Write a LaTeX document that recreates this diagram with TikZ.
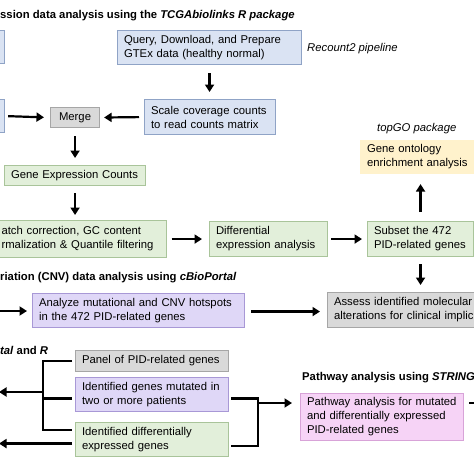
\documentclass[tikz,border=0pt]{standalone}
\usepackage{fontspec}
\setmainfont{Liberation Sans}
\usetikzlibrary{arrows.meta}
\definecolor{bluefill}{HTML}{DAE3F3}
\definecolor{blueline}{HTML}{8FA3C6}
\definecolor{greenfill}{HTML}{E2EFDA}
\definecolor{greenline}{HTML}{A9C49A}
\definecolor{grayfill}{HTML}{D9D9D9}
\definecolor{grayline}{HTML}{A6A6A6}
\definecolor{purplefill}{HTML}{DFD7F7}
\definecolor{purpleline}{HTML}{A898D6}
\definecolor{pinkfill}{HTML}{F6D3F6}
\definecolor{pinkline}{HTML}{D8A3D8}
\definecolor{orangefill}{HTML}{FFF2CC}
\begin{document}
\begin{tikzpicture}[x=1pt,y=-1pt,
  txt/.style={font=\fontsize{11.3}{14}\selectfont},
  box/.style={txt, draw, line width=1.1pt, anchor=north west, align=left,
    inner xsep=6.5pt, inner ysep=0pt},
  blank/.style={draw, line width=1.1pt, anchor=north west, inner sep=0pt},
  bluebox/.style={fill=bluefill, draw=blueline},
  greenbox/.style={fill=greenfill, draw=greenline},
  graybox/.style={fill=grayfill, draw=grayline},
  purplebox/.style={fill=purplefill, draw=purpleline},
  pinkbox/.style={fill=pinkfill, draw=pinkline},
  orangebox/.style={fill=orangefill, draw=orangefill},
  head/.style={txt, font=\fontsize{11.3}{14}\selectfont\bfseries, anchor=base west, inner sep=0pt},
  note/.style={txt, font=\fontsize{11.3}{14}\selectfont\itshape, anchor=base west, inner sep=0pt},
  arr/.style={line width=2.2pt, -{Triangle[length=7.5pt,width=9pt]}},
  ln/.style={line width=2.2pt}
]
\useasboundingbox (0,0) rectangle (474,474);
\clip (0,0) rectangle (474,474);
\fill[white] (0,0) rectangle (474,474);

% headings
\node[head] (t1) at (0,18) {ssion data analysis using the \textit{TCGAbiolinks R package}};
\node[head] (t2) at (0,280) {riation (CNV) data analysis using \textit{cBioPortal}};
\node[head] (t3) at (0,354) {\textit{tal} and \textit{R}};
\node[head] (t4) at (302,380) {Pathway analysis using \textit{STRING}};
\node[note] (rec) at (307,51) {Recount2 pipeline};
\node[note] (tgo) at (377,131) {topGO package};

% boxes
\node[blank, bluebox, minimum width=14pt, minimum height=33pt] (lb1) at (-10,30) {};
\node[blank, bluebox, minimum width=14pt, minimum height=33pt] (lb2) at (-10,99) {};
\node[box, bluebox, minimum width=184pt, text width=171pt, minimum height=34pt] (qry) at (117,30)
  {Query, Download, and Prepare\\GTEx data (healthy normal)};
\node[box, graybox, minimum width=49pt, minimum height=20pt, inner xsep=0pt, align=center] (mrg) at (50,107) {Merge};
\node[box, bluebox, minimum width=131pt, text width=118pt, minimum height=35pt] (scl) at (144,99)
  {Scale coverage counts\\to read counts matrix};
\node[box, greenbox, minimum width=141pt, text width=128pt, minimum height=20pt] (gec) at (4,165)
  {Gene Expression Counts};
\node[box, greenbox, minimum width=171pt, text width=158pt, minimum height=37pt, inner xsep=6.5pt] (bat) at (-5.5,220)
  {atch correction, GC content\\rmalization \& Quantile filtering};
\node[box, greenbox, minimum width=118pt, text width=105pt, minimum height=35pt] (dif) at (209,221)
  {Differential\\expression analysis};
\node[box, greenbox, minimum width=106pt, text width=93pt, minimum height=35pt] (sub) at (367,221)
  {Subset the 472\\PID-related genes};
\node[box, orangebox, minimum width=116pt, text width=103pt, minimum height=33pt] (go) at (360,140)
  {Gene ontology\\enrichment analysis};
\node[box, purplebox, minimum width=212pt, text width=199pt, minimum height=34pt] (ana) at (32,293)
  {Analyze mutational and CNV hotspots\\in the 472 PID-related genes};
\node[box, graybox, minimum width=160pt, text width=147pt, minimum height=35pt] (ass) at (327,292)
  {Assess identified molecular\\alterations for clinical implic};
\node[box, graybox, minimum width=153pt, text width=140pt, minimum height=21pt] (pnl) at (75,350)
  {Panel of PID-related genes};
\node[box, purplebox, minimum width=153pt, text width=140pt, minimum height=34pt] (mut) at (75,377)
  {Identified genes mutated in\\two or more patients};
\node[box, greenbox, minimum width=153pt, text width=140pt, minimum height=34pt] (deg) at (75,422)
  {Identified differentially\\expressed genes};
\node[box, pinkbox, minimum width=163pt, text width=150pt, minimum height=47pt] (pwy) at (300,393)
  {Pathway analysis for mutated\\and differentially expressed\\PID-related genes};

% connectors, top section
\draw[arr, shorten <=3pt, shorten >=6pt] (lb2.east) -- (mrg.west);
\draw[arr, shorten <=5pt, shorten >=4pt] (scl.west) -- (mrg.east);
\draw[arr, shorten <=8pt, shorten >=7pt] (qry.south) -- (qry.south |- scl.north);
\draw[arr, shorten <=8pt, shorten >=7pt] (mrg.south) -- (mrg.south |- gec.north);
\draw[arr, shorten <=7pt, shorten >=5pt] (gec.south) -- (gec.south |- bat.north);
\draw[arr, shorten <=5pt, shorten >=7pt] (bat.east) -- (dif.west);
\draw[arr, shorten <=3pt, shorten >=5pt] (dif.east) -- (sub.west);
\draw[arr, shorten <=9pt, shorten >=10pt] (sub.north) -- (sub.north |- go.south);
\draw[arr, shorten <=7pt, shorten >=7pt] (sub.south) -- (sub.south |- ass.north);

% CNV section
\coordinate (cnvin) at (-5,311);
\coordinate (anaout) at ([yshift=-1pt]ana.east);
\draw[arr, shorten >=5pt] (cnvin) -- (cnvin -| ana.west);
\draw[arr, shorten <=6pt, shorten >=7pt] (anaout) -- (anaout -| ass.west);

% bottom section, left bracket
\coordinate (bl) at (43,392);
\coordinate (lout) at (-1,392);
\coordinate (degout) at (-1,443);
\coordinate (pnlin) at ([xshift=-3pt]pnl.west);
\coordinate (mutin) at ([xshift=-3pt,yshift=-4pt]mut.west);
\coordinate (degin) at ([xshift=-3pt,yshift=-8pt]deg.north west);
\coordinate (degl) at ([xshift=-3pt,yshift=-4pt]deg.west);
\draw[ln] (pnlin) -- (pnlin -| bl) -- (bl |- degin) -- (degin);
\draw[ln] (mutin) -- (mutin -| bl);
\draw[arr] (bl) -- (lout);
\draw[arr] (degl) -- (degl -| degout);

% bottom section, right bracket
\coordinate (rbx) at (258,446);
\coordinate (rjn) at (258,403);
\coordinate (mutr) at ([xshift=2pt,yshift=-4pt]mut.east);
\coordinate (degr) at ([xshift=2pt]deg.east);
\coordinate (pout) at ([xshift=5pt]pwy.east);
\draw[ln] (mutr) -| (rbx) -- (rbx -| degr);
\draw[arr, shorten >=8pt] (rjn) -- (rjn -| pwy.west);
\draw[ln] (pout |- rjn) -- ++(12,0);
\end{tikzpicture}
\end{document}
